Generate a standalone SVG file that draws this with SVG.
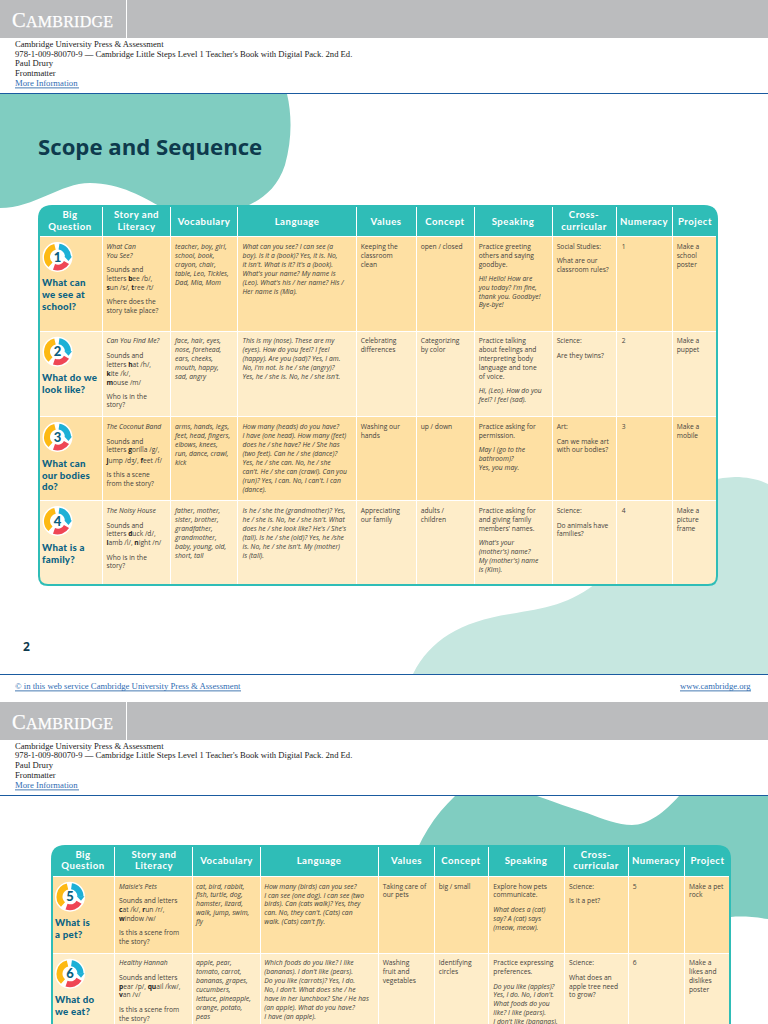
<svg xmlns="http://www.w3.org/2000/svg" width="768" height="1024" viewBox="0 0 768 1024">
<style>
text{font-family:"Open Sans","Noto Sans",sans-serif}
.c{font-size:6.7px;fill:#454340}
.i{font-size:6.8px;fill:#403e3b;font-style:italic}
.b{font-weight:700;fill:#222}
.h{font-family:Lato,"Open Sans",sans-serif;font-size:9.6px;font-weight:700;fill:#fff;text-anchor:middle;letter-spacing:.5px}
.q{font-family:Lato,"Open Sans",sans-serif;font-size:9.7px;font-weight:900;fill:#0b6384;letter-spacing:.25px}
.n{font-family:Lato,"Open Sans",sans-serif;font-size:13px;font-weight:900;fill:#0b5f80;text-anchor:middle}
.s{font-family:"Liberation Serif",serif;font-size:8.65px;fill:#222}
.l{font-family:"Liberation Serif",serif;font-size:8.7px;fill:#2f6db3}
.logo{font-family:"Liberation Serif",serif;fill:#fff;stroke:#fff;stroke-width:.25px;font-size:16px;letter-spacing:.25px}
.bar{fill:#bbbcbe}
.rule{fill:#1a5ba0}
.hd{fill:#2fbdb7}
.d{fill:#fee0a3}
.e{fill:#feedc9}
.gl{stroke:#fff;stroke-width:1;fill:none}
</style>
<defs>
<g id="ring">
<circle r="15" fill="#fff"/>
<path d="M-2.500-10.200A10.500 10.500 0 0 0-7 7.800" fill="none" stroke="#fdb913" stroke-width="6"/>
<path d="M1.500-10.400A10.500 10.500 0 0 1 10.500 0" fill="none" stroke="#1cb0d6" stroke-width="6"/>
<path d="M6.800-.5L14.500-.5L11 4Z" fill="#1cb0d6"/>
<path d="M9 5.500A10.500 10.500 0 0 1-3.500 9.900" fill="none" stroke="#ef4655" stroke-width="6"/>
</g>
</defs>

<g id="page1-background">
<path d="M413 674C430 640 460 622 510 614C545 608 570 605 600 580C640 545 660 480 735 477C748 477 760 480 768 484V674Z" fill="#c6e7e0"/>
<rect class="rule" x="0" y="93" width="768" height="1"/>
<path d="M0 94H287C292 115 292 140 285 165C277 190 260 200 245 207H161C145 198 120 183 90 183C60 183 35 208 0 208Z" fill="#80cdc1"/>
</g>

<g id="page1-header">
<rect class="bar" width="768" height="38"/>
<rect x="126" width="1" height="38" fill="#fff"/>
<text class="logo" x="12" y="27"><tspan font-size="20.500">C</tspan>AMBRIDGE</text>
<text class="s" x="15" y="47">Cambridge University Press &amp; Assessment</text>
<text class="s" x="15" y="56.500">978-1-009-80070-9 — Cambridge Little Steps Level 1 Teacher's Book with Digital Pack. 2nd Ed.</text>
<text class="s" x="15" y="66">Paul Drury</text>
<text class="s" x="15" y="76">Frontmatter</text>
<text class="l" x="15" y="86">More Information</text>
<rect class="rule" x="15" y="87.500" width="64" height=".8"/>
</g>

<text id="title" x="38" y="155" font-size="22.200" font-weight="700" fill="#0e3a4d">Scope and Sequence</text>

<g id="table1">
<path class="hd" d="M52 205H704Q718 205 718 219V576Q718 586 708 586H48Q38 586 38 576V219Q38 205 52 205Z"/>
<path class="d" d="M40 237H716V331H40Z"/>
<path class="e" d="M40 332H716V416H40Z"/>
<path class="d" d="M40 417H716V500H40Z"/>
<path class="e" d="M40 501H716V576Q716 584 708 584H48Q40 584 40 576Z"/>
<path class="gl" d="M40 236.500H716M40 331.500H716M40 416.500H716M40 500.500H716M102.500 207V584M170.500 207V584M237.500 207V584M356.500 207V584M416.500 207V584M474.500 207V584M552.500 207V584M616.500 207V584M672.500 207V584"/>
<text class="h" x="70" y="218">Big</text><text class="h" x="70" y="230">Question</text>
<text class="h" x="136.500" y="218">Story and</text><text class="h" x="136.500" y="230">Literacy</text>
<text class="h" x="204" y="224.500">Vocabulary</text>
<text class="h" x="297" y="224.500">Language</text>
<text class="h" x="386" y="224.500">Values</text>
<text class="h" x="445" y="224.500">Concept</text>
<text class="h" x="513" y="224.500">Speaking</text>
<text class="h" x="584" y="218">Cross-</text><text class="h" x="584" y="230">curricular</text>
<text class="h" x="644" y="224.500">Numeracy</text>
<text class="h" x="695" y="224.500">Project</text>
</g>

<g id="row1">
<use href="#ring" x="57.500" y="257"/><text class="n" x="57.500" y="261.500">1</text>
<text class="q"><tspan x="42" y="286">What can</tspan><tspan x="42" y="298">we see at</tspan><tspan x="42" y="310">school?</tspan></text>
<text class="i"><tspan x="106.500" y="249">What Can</tspan><tspan x="106.500" y="258">You See?</tspan></text>
<text class="c"><tspan x="106.500" y="272">Sounds and</tspan><tspan x="106.500" y="281">letters <tspan class="b">b</tspan>ee /b/,</tspan><tspan x="106.500" y="290"><tspan class="b">s</tspan>un /s/, <tspan class="b">t</tspan>ree /t/</tspan><tspan x="106.500" y="304">Where does the</tspan><tspan x="106.500" y="313">story take place?</tspan></text>
<text class="i"><tspan x="175" y="249">teacher, boy, girl,</tspan><tspan x="175" y="258">school, book,</tspan><tspan x="175" y="267">crayon, chair,</tspan><tspan x="175" y="275.500">table, Leo, Tickles,</tspan><tspan x="175" y="284.500">Dad, Mia, Mom</tspan></text>
<text class="i"><tspan x="242.500" y="249">What can you see? I can see (a</tspan><tspan x="242.500" y="258">boy). Is it a (book)? Yes, it is. No,</tspan><tspan x="242.500" y="267">it isn't. What is it? It's a (book).</tspan><tspan x="242.500" y="275.500">What's your name? My name is</tspan><tspan x="242.500" y="284.500">(Leo). What's his / her name? His /</tspan><tspan x="242.500" y="293.500">Her name is (Mia).</tspan></text>
<text class="c"><tspan x="360.700" y="249">Keeping the</tspan><tspan x="360.700" y="258">classroom</tspan><tspan x="360.700" y="267">clean</tspan></text>
<text class="c" x="420.700" y="249">open / closed</text>
<text class="c"><tspan x="478.700" y="249">Practice greeting</tspan><tspan x="478.700" y="258">others and saying</tspan><tspan x="478.700" y="267">goodbye.</tspan></text>
<text class="i"><tspan x="478.700" y="280.500">Hi! Hello! How are</tspan><tspan x="478.700" y="289.500">you today? I'm fine,</tspan><tspan x="478.700" y="298.500">thank you. Goodbye!</tspan><tspan x="478.700" y="306.500">Bye-bye!</tspan></text>
<text class="c"><tspan x="556.700" y="249">Social Studies:</tspan><tspan x="556.700" y="262.700">What are our</tspan><tspan x="556.700" y="271.700">classroom rules?</tspan></text>
<text class="c" x="621.700" y="249">1</text>
<text class="c"><tspan x="676.700" y="249">Make a</tspan><tspan x="676.700" y="258">school</tspan><tspan x="676.700" y="267">poster</tspan></text>
</g>

<g id="row2">
<use href="#ring" x="57.500" y="351.700"/><text class="n" x="57.500" y="356.200">2</text>
<text class="q"><tspan x="42" y="381">What do we</tspan><tspan x="42" y="393">look like?</tspan></text>
<text class="i" x="106.500" y="343">Can You Find Me?</text>
<text class="c"><tspan x="106.500" y="358">Sounds and</tspan><tspan x="106.500" y="367">letters <tspan class="b">h</tspan>at /h/,</tspan><tspan x="106.500" y="376"><tspan class="b">k</tspan>ite /k/,</tspan><tspan x="106.500" y="384.500"><tspan class="b">m</tspan>ouse /m/</tspan><tspan x="106.500" y="399">Who is in the</tspan><tspan x="106.500" y="407">story?</tspan></text>
<text class="i"><tspan x="175" y="343">face, hair, eyes,</tspan><tspan x="175" y="352">nose, forehead,</tspan><tspan x="175" y="361">ears, cheeks,</tspan><tspan x="175" y="370">mouth, happy,</tspan><tspan x="175" y="379">sad, angry</tspan></text>
<text class="i"><tspan x="242.500" y="343">This is my (nose). These are my</tspan><tspan x="242.500" y="352">(eyes). How do you feel? I feel</tspan><tspan x="242.500" y="361">(happy). Are you (sad)? Yes, I am.</tspan><tspan x="242.500" y="370">No, I'm not. Is he / she (angry)?</tspan><tspan x="242.500" y="379">Yes, he / she is. No, he / she isn't.</tspan></text>
<text class="c"><tspan x="360.700" y="343">Celebrating</tspan><tspan x="360.700" y="352">differences</tspan></text>
<text class="c"><tspan x="420.700" y="343">Categorizing</tspan><tspan x="420.700" y="352">by color</tspan></text>
<text class="c"><tspan x="478.700" y="343">Practice talking</tspan><tspan x="478.700" y="352">about feelings and</tspan><tspan x="478.700" y="361">interpreting body</tspan><tspan x="478.700" y="370">language and tone</tspan><tspan x="478.700" y="379">of voice.</tspan></text>
<text class="i"><tspan x="478.700" y="393">Hi, (Leo). How do you</tspan><tspan x="478.700" y="402">feel? I feel (sad).</tspan></text>
<text class="c"><tspan x="556.700" y="343">Science:</tspan><tspan x="556.700" y="358">Are they twins?</tspan></text>
<text class="c" x="621.700" y="343">2</text>
<text class="c"><tspan x="676.700" y="343">Make a</tspan><tspan x="676.700" y="352">puppet</tspan></text>
</g>

<g id="row3">
<use href="#ring" x="57.500" y="437"/><text class="n" x="57.500" y="441.500">3</text>
<text class="q"><tspan x="42" y="467">What can</tspan><tspan x="42" y="478.500">our bodies</tspan><tspan x="42" y="490">do?</tspan></text>
<text class="i" x="106.500" y="429">The Coconut Band</text>
<text class="c"><tspan x="106.500" y="443.500">Sounds and</tspan><tspan x="106.500" y="451.500">letters <tspan class="b">g</tspan>orilla /g/,</tspan><tspan x="106.500" y="463"><tspan class="b">j</tspan>ump /dʒ/, <tspan class="b">f</tspan>eet /f/</tspan><tspan x="106.500" y="477">Is this a scene</tspan><tspan x="106.500" y="486">from the story?</tspan></text>
<text class="i"><tspan x="175" y="429">arms, hands, legs,</tspan><tspan x="175" y="438">feet, head, fingers,</tspan><tspan x="175" y="447">elbows, knees,</tspan><tspan x="175" y="456">run, dance, crawl,</tspan><tspan x="175" y="465">kick</tspan></text>
<text class="i"><tspan x="242.500" y="429">How many (heads) do you have?</tspan><tspan x="242.500" y="438">I have (one head). How many (feet)</tspan><tspan x="242.500" y="447">does he / she have? He / She has</tspan><tspan x="242.500" y="456">(two feet). Can he / she (dance)?</tspan><tspan x="242.500" y="465">Yes, he / she can. No, he / she</tspan><tspan x="242.500" y="474">can't. He / she can (crawl). Can you</tspan><tspan x="242.500" y="483">(run)? Yes, I can. No, I can't. I can</tspan><tspan x="242.500" y="492">(dance).</tspan></text>
<text class="c"><tspan x="360.700" y="429">Washing our</tspan><tspan x="360.700" y="438">hands</tspan></text>
<text class="c" x="420.700" y="429">up / down</text>
<text class="c"><tspan x="478.700" y="429">Practice asking for</tspan><tspan x="478.700" y="438">permission.</tspan></text>
<text class="i"><tspan x="478.700" y="451.500">May I (go to the</tspan><tspan x="478.700" y="461">bathroom)?</tspan><tspan x="478.700" y="470">Yes, you may.</tspan></text>
<text class="c"><tspan x="556.700" y="429">Art:</tspan><tspan x="556.700" y="443.500">Can we make art</tspan><tspan x="556.700" y="451.500">with our bodies?</tspan></text>
<text class="c" x="621.700" y="429">3</text>
<text class="c"><tspan x="676.700" y="429">Make a</tspan><tspan x="676.700" y="438">mobile</tspan></text>
</g>

<g id="row4">
<use href="#ring" x="57.500" y="521"/><text class="n" x="57.500" y="525.500">4</text>
<text class="q"><tspan x="42" y="551">What is a</tspan><tspan x="42" y="563">family?</tspan></text>
<text class="i" x="106.500" y="513">The Noisy House</text>
<text class="c"><tspan x="106.500" y="528">Sounds and</tspan><tspan x="106.500" y="536">letters <tspan class="b">d</tspan>uck /d/,</tspan><tspan x="106.500" y="545"><tspan class="b">l</tspan>amb /l/, <tspan class="b">n</tspan>ight /n/</tspan><tspan x="106.500" y="560">Who is in the</tspan><tspan x="106.500" y="568">story?</tspan></text>
<text class="i"><tspan x="175" y="513">father, mother,</tspan><tspan x="175" y="522">sister, brother,</tspan><tspan x="175" y="531">grandfather,</tspan><tspan x="175" y="540">grandmother,</tspan><tspan x="175" y="549">baby, young, old,</tspan><tspan x="175" y="558">short, tall</tspan></text>
<text class="i"><tspan x="242.500" y="513">Is he / she the (grandmother)? Yes,</tspan><tspan x="242.500" y="522">he / she is. No, he / she isn't. What</tspan><tspan x="242.500" y="531">does he / she look like? He's / She's</tspan><tspan x="242.500" y="540">(tall). Is he / she (old)? Yes, he /she</tspan><tspan x="242.500" y="549">is. No, he / she isn't. My (mother)</tspan><tspan x="242.500" y="558">is (tall).</tspan></text>
<text class="c"><tspan x="360.700" y="513">Appreciating</tspan><tspan x="360.700" y="522">our family</tspan></text>
<text class="c"><tspan x="420.700" y="513">adults /</tspan><tspan x="420.700" y="522">children</tspan></text>
<text class="c"><tspan x="478.700" y="513">Practice asking for</tspan><tspan x="478.700" y="522">and giving family</tspan><tspan x="478.700" y="531">members' names.</tspan></text>
<text class="i"><tspan x="478.700" y="545">What's your</tspan><tspan x="478.700" y="554">(mother's) name?</tspan><tspan x="478.700" y="563">My (mother's) name</tspan><tspan x="478.700" y="572">is (Kim).</tspan></text>
<text class="c"><tspan x="556.700" y="513">Science:</tspan><tspan x="556.700" y="528">Do animals have</tspan><tspan x="556.700" y="536">families?</tspan></text>
<text class="c" x="621.700" y="513">4</text>
<text class="c"><tspan x="676.700" y="513">Make a</tspan><tspan x="676.700" y="522">picture</tspan><tspan x="676.700" y="531">frame</tspan></text>
</g>

<g id="page1-footer">
<text x="23" y="651" font-size="12" font-weight="700" fill="#0e3a4d">2</text>
<rect class="rule" y="674" width="768" height="1"/>
<text class="l" x="15" y="689">© in this web service Cambridge University Press &amp; Assessment</text>
<rect class="rule" x="15" y="690.500" width="226" height=".8"/>
<text class="l" x="680" y="689">www.cambridge.org</text>
<rect class="rule" x="680" y="690.500" width="71" height=".8"/>
</g>

<g id="page2-header">
<rect class="bar" y="702" width="768" height="38"/>
<rect x="126" y="702" width="1" height="38" fill="#fff"/>
<text class="logo" x="12" y="729"><tspan font-size="20.500">C</tspan>AMBRIDGE</text>
<text class="s" x="15" y="749">Cambridge University Press &amp; Assessment</text>
<text class="s" x="15" y="758">978-1-009-80070-9 — Cambridge Little Steps Level 1 Teacher's Book with Digital Pack. 2nd Ed.</text>
<text class="s" x="15" y="768">Paul Drury</text>
<text class="s" x="15" y="778">Frontmatter</text>
<text class="l" x="15" y="788">More Information</text>
<rect class="rule" x="15" y="789.500" width="64" height=".8"/>
<rect class="rule" y="795" width="768" height="1"/>
</g>

<g id="page2-background">
<path d="M455 796H537C555 802 570 808 587 813C603 819 618 825 632 825C648 825 665 812 679 796H768V919C755 917 742 916 731 917V1000H410V870C418 840 435 815 455 796Z" fill="#80cdc1"/>
</g>

<g id="table2">
<path class="hd" d="M65 845H717Q731 845 731 859V1024H51V859Q51 845 65 845Z"/>
<path class="d" d="M53 877H729V953H53Z"/>
<path class="e" d="M53 954H729V1024H53Z"/>
<path class="gl" d="M53 876.500H729M53 953.500H729M114.500 847V1024M192.500 847V1024M260.500 847V1024M378.500 847V1024M434.500 847V1024M488.500 847V1024M564.500 847V1024M628.500 847V1024M684.500 847V1024"/>
<text class="h" x="83" y="858">Big</text><text class="h" x="83" y="869">Question</text>
<text class="h" x="154" y="858">Story and</text><text class="h" x="154" y="869">Literacy</text>
<text class="h" x="226.500" y="864">Vocabulary</text>
<text class="h" x="319" y="864">Language</text>
<text class="h" x="406.500" y="864">Values</text>
<text class="h" x="461" y="864">Concept</text>
<text class="h" x="526" y="864">Speaking</text>
<text class="h" x="596" y="858">Cross-</text><text class="h" x="596" y="869">curricular</text>
<text class="h" x="656" y="864">Numeracy</text>
<text class="h" x="707.500" y="864">Project</text>
</g>

<g id="row5">
<use href="#ring" x="70" y="896.700"/><text class="n" x="70" y="901.200">5</text>
<text class="q"><tspan x="55" y="926">What is</tspan><tspan x="55" y="938">a pet?</tspan></text>
<text class="i" x="119" y="889">Maisie's Pets</text>
<text class="c"><tspan x="119" y="903">Sounds and letters</tspan><tspan x="119" y="912"><tspan class="b">c</tspan>at /k/, <tspan class="b">r</tspan>un /r/,</tspan><tspan x="119" y="921"><tspan class="b">w</tspan>indow /w/</tspan><tspan x="119" y="935">Is this a scene from</tspan><tspan x="119" y="944">the story?</tspan></text>
<text class="i"><tspan x="196" y="889">cat, bird, rabbit,</tspan><tspan x="196" y="897">fish, turtle, dog,</tspan><tspan x="196" y="905.500">hamster, lizard,</tspan><tspan x="196" y="914.500">walk, jump, swim,</tspan><tspan x="196" y="923.500">fly</tspan></text>
<text class="i"><tspan x="264.300" y="889">How many (birds) can you see?</tspan><tspan x="264.300" y="897.500">I can see (one dog). I can see (two</tspan><tspan x="264.300" y="905.500">birds). Can (cats walk)? Yes, they</tspan><tspan x="264.300" y="914.500">can. No, they can't. (Cats) can</tspan><tspan x="264.300" y="923.500">walk. (Cats) can't fly.</tspan></text>
<text class="c"><tspan x="382.700" y="889">Taking care of</tspan><tspan x="382.700" y="897">our pets</tspan></text>
<text class="c" x="438.700" y="889">big / small</text>
<text class="c"><tspan x="493.300" y="889">Explore how pets</tspan><tspan x="493.300" y="897">communicate.</tspan></text>
<text class="i"><tspan x="493.300" y="912">What does a (cat)</tspan><tspan x="493.300" y="921">say? A (cat) says</tspan><tspan x="493.300" y="929.700">(meow, meow).</tspan></text>
<text class="c"><tspan x="569" y="889">Science:</tspan><tspan x="569" y="903">Is it a pet?</tspan></text>
<text class="c" x="632.700" y="889">5</text>
<text class="c"><tspan x="689" y="889">Make a pet</tspan><tspan x="689" y="897">rock</tspan></text>
</g>

<g id="row6">
<use href="#ring" x="70" y="973.700"/><text class="n" x="70" y="978.200">6</text>
<text class="q"><tspan x="55" y="1003">What do</tspan><tspan x="55" y="1015">we eat?</tspan></text>
<text class="i" x="119" y="965">Healthy Hannah</text>
<text class="c"><tspan x="119" y="980">Sounds and letters</tspan><tspan x="119" y="989"><tspan class="b">p</tspan>ear /p/, <tspan class="b">qu</tspan>ail /kw/,</tspan><tspan x="119" y="997"><tspan class="b">v</tspan>an /v/</tspan><tspan x="119" y="1012">Is this a scene from</tspan><tspan x="119" y="1021">the story?</tspan></text>
<text class="i"><tspan x="196" y="965">apple, pear,</tspan><tspan x="196" y="974">tomato, carrot,</tspan><tspan x="196" y="983">bananas, grapes,</tspan><tspan x="196" y="992">cucumbers,</tspan><tspan x="196" y="1001">lettuce, pineapple,</tspan><tspan x="196" y="1010">orange, potato,</tspan><tspan x="196" y="1019">peas</tspan></text>
<text class="i"><tspan x="264.300" y="965">Which foods do you like? I like</tspan><tspan x="264.300" y="974">(bananas). I don't like (pears).</tspan><tspan x="264.300" y="983">Do you like (carrots)? Yes, I do.</tspan><tspan x="264.300" y="992">No, I don't. What does she / he</tspan><tspan x="264.300" y="1001">have in her lunchbox? She / He has</tspan><tspan x="264.300" y="1010">(an apple). What do you have?</tspan><tspan x="264.300" y="1019">I have (an apple).</tspan></text>
<text class="c"><tspan x="382.700" y="965">Washing</tspan><tspan x="382.700" y="974">fruit and</tspan><tspan x="382.700" y="983">vegetables</tspan></text>
<text class="c"><tspan x="438.700" y="965">Identifying</tspan><tspan x="438.700" y="974">circles</tspan></text>
<text class="c"><tspan x="493.300" y="965">Practice expressing</tspan><tspan x="493.300" y="974">preferences.</tspan></text>
<text class="i"><tspan x="493.300" y="989">Do you like (apples)?</tspan><tspan x="493.300" y="997">Yes, I do. No, I don't.</tspan><tspan x="493.300" y="1006">What foods do you</tspan><tspan x="493.300" y="1015">like? I like (pears).</tspan><tspan x="493.300" y="1024">I don't like (bananas).</tspan></text>
<text class="c"><tspan x="569" y="965">Science:</tspan><tspan x="569" y="980">What does an</tspan><tspan x="569" y="989">apple tree need</tspan><tspan x="569" y="997">to grow?</tspan></text>
<text class="c" x="632.700" y="965">6</text>
<text class="c"><tspan x="689" y="965">Make a</tspan><tspan x="689" y="974">likes and</tspan><tspan x="689" y="983">dislikes</tspan><tspan x="689" y="992">poster</tspan></text>
</g>
</svg>
